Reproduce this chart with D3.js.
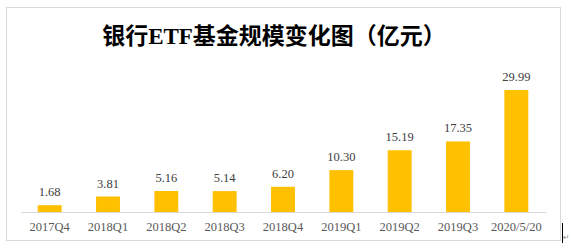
<!DOCTYPE html>
<html>
<head>
<meta charset="utf-8">
<script src="https://cdn.jsdelivr.net/npm/d3@7"></script>
<style>
  body { margin: 0; background: #fff; }
  svg { display: block; }
</style>
</head>
<body>
<script>
// data
const categories = ["2017Q4", "2018Q1", "2018Q2", "2018Q3", "2018Q4", "2019Q1", "2019Q2", "2019Q3", "2020/5/20"];
const values = [1.68, 3.81, 5.16, 5.14, 6.20, 10.30, 15.19, 17.35, 29.99];
const valueLabels = ["1.68", "3.81", "5.16", "5.14", "6.20", "10.30", "15.19", "17.35", "29.99"];
const title = "银行ETF基金规模变化图（亿元）";

const width = 571, height = 252;
const baseY = 212;

const svg = d3.select("body").append("svg")
  .attr("width", width)
  .attr("height", height);

// chart frame
svg.append("rect")
  .attr("x", 6.5).attr("y", 7.5)
  .attr("width", 554).attr("height", 233)
  .attr("fill", "#fff")
  .attr("stroke", "#d9d9d9");

svg.append("text")
  .attr("x", 274).attr("y", 44)
  .attr("text-anchor", "middle")
  .attr("font-family", "'Liberation Serif', 'Noto Sans CJK SC', serif")
  .attr("font-weight", "bold")
  .attr("font-size", 23)
  .attr("fill", "#000")
  .text(title);

const x = d3.scaleBand()
  .domain(categories)
  .range([20.5, 545.5])
  .paddingInner(0.59)
  .paddingOuter(0.295);

const y = d3.scaleLinear()
  .domain([0, 30])
  .range([baseY, 90]);

// bars
svg.append("g").selectAll("rect")
  .data(values)
  .join("rect")
  .attr("x", (d, i) => x(categories[i]))
  .attr("y", d => y(d))
  .attr("width", x.bandwidth())
  .attr("height", d => baseY - y(d))
  .attr("fill", "#ffc000");

// value labels
svg.append("g").selectAll("text")
  .data(values)
  .join("text")
  .attr("x", (d, i) => x(categories[i]) + x.bandwidth() / 2)
  .attr("y", d => y(d) - 9)
  .attr("text-anchor", "middle")
  .attr("font-family", "'Liberation Serif', serif")
  .attr("font-size", 12.5)
  .attr("fill", "#404040")
  .text((d, i) => valueLabels[i]);

// x axis
const xAxis = svg.append("g")
  .attr("transform", `translate(0, ${baseY})`)
  .call(d3.axisBottom(x).tickSize(0).tickPadding(10));
xAxis.select(".domain").attr("stroke", "#d9d9d9");
xAxis.selectAll("text")
  .attr("font-family", "'Liberation Serif', serif")
  .attr("font-size", 12.5)
  .attr("fill", "#595959");

// text cursor / paragraph mark at the bottom right
svg.append("line")
  .attr("x1", 562.5).attr("x2", 562.5)
  .attr("y1", 223).attr("y2", 243)
  .attr("stroke", "#000");
svg.append("text")
  .attr("x", 563).attr("y", 240)
  .attr("font-family", "'DejaVu Sans', sans-serif")
  .attr("font-size", 8)
  .attr("fill", "#888")
  .text("↵");
</script>
</body>
</html>
